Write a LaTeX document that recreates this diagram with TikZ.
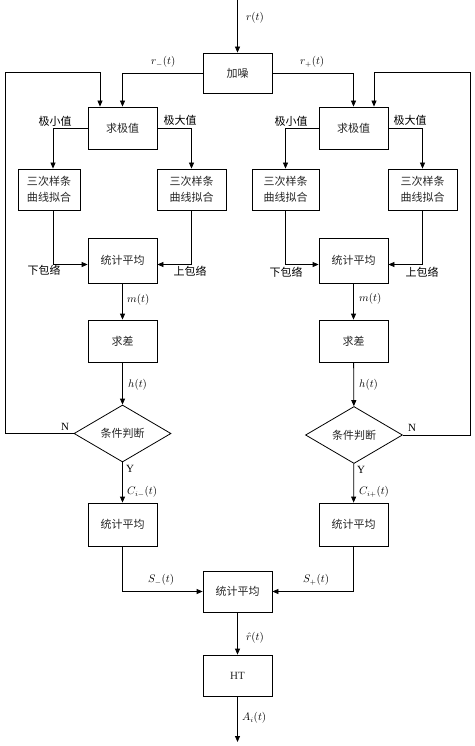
\documentclass[tikz,border=0pt]{standalone}
\usepackage{fontspec}
\setmainfont{Liberation Serif}
\newfontfamily\cjk{Noto Sans CJK SC}
\usetikzlibrary{arrows.meta,shapes.geometric,calc}
\tikzset{
  box/.style={draw, line width=0.8pt, minimum width=69pt, minimum height=42pt, inner sep=0pt,
    font=\cjk\fontsize{11}{16}\selectfont, text=black!85, align=center},
  dia/.style={draw, diamond, line width=0.8pt, minimum width=97pt, minimum height=57pt, inner sep=0pt,
    font=\cjk\fontsize{11}{13}\selectfont, text=black!85},
  lab/.style={inner sep=0pt, font=\cjk\fontsize{11}{13}\selectfont},
  mlab/.style={inner sep=0pt, anchor=west, font=\fontsize{10.5}{12}\selectfont},
  yn/.style={inner sep=0pt, font=\fontsize{11}{13}\selectfont},
  arr/.style={line width=0.8pt, -{Triangle[length=6pt,width=5pt]}}
}
\begin{document}
\begin{tikzpicture}[x=1pt,y=-1pt]
\useasboundingbox (0,0) rectangle (474,746);
% top
\coordinate (in) at (237.5,0);
\node[box, minimum height=40pt] (jz) at (237.5,73) {加噪};
% left column
\node[box] (Lq) at (122.5,128) {求极值};
\node[box, minimum width=62pt, minimum height=41pt] (Ls1) at (49,189.5) {三次样条\\曲线拟合};
\node[box, minimum height=41pt] (Ls2) at (191.5,189.5) {三次样条\\曲线拟合};
\node[box, minimum height=45pt] (La) at (122.5,260.5) {统计平均};
\node[box] (Ld) at (122.5,341) {求差};
\node[dia] (Lj) at (122.5,433.5) {条件判断};
\node[box, minimum height=43pt] (La2) at (122.5,524.5) {统计平均};
% right column
\node[box] (Rq) at (353.5,128) {求极值};
\node[box, minimum width=67pt, minimum height=41pt] (Rs1) at (285.5,189.5) {三次样条\\曲线拟合};
\node[box, minimum height=41pt] (Rs2) at (422.5,189.5) {三次样条\\曲线拟合};
\node[box, minimum height=45pt] (Ra) at (353.5,260.5) {统计平均};
\node[box] (Rd) at (353.5,341) {求差};
\node[dia] (Rj) at (354,435) {条件判断};
\node[box, minimum height=43pt] (Ra2) at (353.5,524.5) {统计平均};
% bottom
\node[box, minimum height=41pt] (F) at (237.5,591.5) {统计平均};
\node[box, minimum height=41pt, font=\fontsize{11}{13}\selectfont] (HT) at (237.5,675.5) {HT};
\coordinate (out) at (237.5,742);
% loop coordinates
\coordinate (LL1) at (5,433.5);
\coordinate (LL2) at (5,72);
\coordinate (RL1) at (470,435);
\coordinate (RL2) at (470,72);
% connectors
\draw[arr] (in) -- (jz);
\draw[arr] (jz.west) -| (Lq.north);
\draw[arr] (jz.east) -| (Rq.north);
\draw[arr] (Lj.west) -- (LL1) -- (LL2) -| ([xshift=-22.5pt]Lq.north);
\draw[arr] (Rj.east) -- (RL1) -- (RL2) -| ([xshift=20.5pt]Rq.north);
\draw[arr] (Lq.west) -| ([xshift=4pt]Ls1.north);
\draw[arr] (Lq.east) -| (Ls2.north);
\draw[arr] ([xshift=4pt]Ls1.south) |- ([yshift=-4pt]La.west);
\draw[arr] (Ls2.south) |- ([yshift=-4pt]La.east);
\draw[arr] (Rq.west) -| (Rs1.north);
\draw[arr] (Rq.east) -| (Rs2.north);
\draw[arr] (Rs1.south) |- ([yshift=-4pt]Ra.west);
\draw[arr] (Rs2.south) |- ([yshift=-4pt]Ra.east);
\draw[arr] (La) -- (Ld);
\draw[arr] (Ld) -- (Lj);
\draw[arr] (Lj) -- (La2);
\draw[arr] (Ra) -- (Rd);
\draw[arr] (Rd) -- (Rj);
\draw[arr] (Rj) -- (Ra2);
\draw[arr] (La2.south) |- (F.west);
\draw[arr] (Ra2.south) |- (F.east);
\draw[arr] (F) -- (HT);
\draw[arr] (HT) -- (out);
% labels
\node[mlab] (l1) at (246,18) {$r(t)$};
\node[mlab] (l2) at (151,62) {$r_{-}(t)$};
\node[mlab] (l3) at (300,62) {$r_{+}(t)$};
\node[lab] (l4) at (55,121) {极小值};
\node[lab] (l5) at (180,120) {极大值};
\node[lab] (l6) at (291,121) {极小值};
\node[lab] (l7) at (410,120) {极大值};
\node[lab] (l8) at (44,270) {下包络};
\node[lab] (l9) at (190,271) {上包络};
\node[lab] (l10) at (286,272) {下包络};
\node[lab] (l11) at (422,272) {上包络};
\node[mlab] (l12) at (127,300) {$m(t)$};
\node[mlab] (l13) at (359,299) {$m(t)$};
\node[mlab] (l14) at (128,385) {$h(t)$};
\node[mlab] (l15) at (359,385) {$h(t)$};
\node[yn] (l16) at (65,427) {N};
\node[yn] (l17) at (412,428) {N};
\node[yn] (l18) at (130,469) {Y};
\node[yn] (l19) at (361,470) {Y};
\node[mlab] (l20) at (127,492) {$C_{i-}(t)$};
\node[mlab] (l21) at (359,492) {$C_{i+}(t)$};
\node[mlab] (l22) at (148,580) {$S_{-}(t)$};
\node[mlab] (l23) at (303,580) {$S_{+}(t)$};
\node[mlab] (l24) at (246,638) {$\hat{r}(t)$};
\node[mlab] (l25) at (242,718) {$A_{i}(t)$};
\end{tikzpicture}
\end{document}
